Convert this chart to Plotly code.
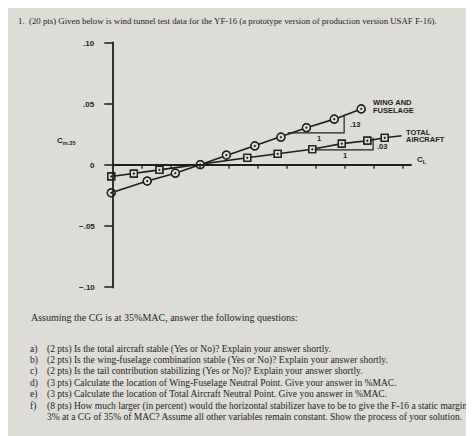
import plotly.graph_objects as go

# Data (x in C_L tick units, y = Cm,35)
wf_x = [-0.06, 1.18, 2.15, 3.01, 3.91, 4.89, 5.79, 6.67, 7.63, 8.56]
wf_y = [-0.0228, -0.0132, -0.0067, 0.0003, 0.0081, 0.0156, 0.0228, 0.0306, 0.0376, 0.046]
ta_x = [-0.06, 0.72, 1.6, 4.63, 5.68, 6.87, 7.89, 8.77, 9.37]
ta_y = [-0.0094, -0.007, -0.004, 0.0059, 0.0091, 0.0129, 0.0175, 0.0199, 0.0223]
ta_line_x = ta_x + [9.95]
ta_line_y = ta_y + [0.024]
ytick_vals = [0.10, 0.05, 0.0, -0.05, -0.10]
ytick_text = [".10", ".05", "0", "\u2212.05", "\u2212.10"]
xtick_vals = list(range(1, 11))

BG = "#dddcd7"
INK = "#1e1e1e"
W, H = 474, 436
x0px, y0px, pxx, pxy = 105, 157, 29.0, 1220.0
xr = [-x0px / pxx, (W - x0px) / pxx]
yr = [-(H - y0px) / pxy, y0px / pxy]

fig = go.Figure()
# axes
fig.add_shape(type="line", x0=0, x1=0, y0=-0.101, y1=0.101, line=dict(color=INK, width=1.8))
fig.add_shape(type="line", x0=0, x1=10.3, y0=0, y1=0, line=dict(color=INK, width=1.8))
for v in ytick_vals:
    fig.add_shape(type="line", x0=-0.3, x1=0, y0=v, y1=v, line=dict(color=INK, width=1.5))
for v in xtick_vals:
    fig.add_shape(type="line", x0=v, x1=v, y0=0, y1=-0.003, line=dict(color=INK, width=1.3))
# slope triangles
fig.add_shape(type="path", path="M 6.03,0.0263 L 7.97,0.0263 L 7.97,0.0403",
              line=dict(color=INK, width=1.2))
fig.add_shape(type="path", path="M 6.95,0.0124 L 8.97,0.0124 L 8.97,0.0223",
              line=dict(color=INK, width=1.2))

fig.add_trace(go.Scatter(x=ta_line_x, y=ta_line_y, mode="lines", line=dict(color=INK, width=1.6)))
fig.add_trace(go.Scatter(x=wf_x, y=wf_y, mode="lines", line=dict(color=INK, width=1.6)))
fig.add_trace(go.Scatter(x=ta_x, y=ta_y, mode="markers",
                         marker=dict(symbol="square", size=7, color=BG, line=dict(color=INK, width=1.2))))
fig.add_trace(go.Scatter(x=ta_x, y=ta_y, mode="markers",
                         marker=dict(symbol="square-open-dot", size=7, color=INK, line=dict(width=1.2))))
fig.add_trace(go.Scatter(x=wf_x, y=wf_y, mode="markers",
                         marker=dict(symbol="circle", size=8, color=BG, line=dict(color=INK, width=1.2))))
fig.add_trace(go.Scatter(x=wf_x, y=wf_y, mode="markers",
                         marker=dict(symbol="circle-open-dot", size=8, color=INK, line=dict(width=1.2))))

ann = []
def A(x, y, t, size=9, fam="Liberation Sans", xa="left", bold=True):
    ann.append(dict(x=x, y=y, xref="x", yref="y", text=(f"<b>{t}</b>" if bold else t),
                    showarrow=False, xanchor=xa, yanchor="middle",
                    font=dict(size=size, family=fam, color=INK)))

for v, t in zip(ytick_vals, ytick_text):
    A(-0.55, v, t, size=8, xa="right")
A(-1.2, 0.0197, "C<sub>m.35</sub>", size=8, xa="right")
A(8.9, 0.0515, "WING AND", size=7.5)
A(8.9, 0.0449, "FUSELAGE", size=7.5)
A(10.05, 0.0270, "TOTAL", size=7.5)
A(10.05, 0.0205, "AIRCRAFT", size=7.5)
A(8.1, 0.0336, ".13", size=7.5)
A(7.1, 0.0221, "1", size=7.5, xa="center")
A(9.05, 0.0148, ".03", size=7.5)
A(8.0, 0.0082, "1", size=7.5, xa="center")
A(10.4, 0.0041, "C<sub>L</sub>", size=8)

def T(px, py, t, size=9.5):
    ann.append(dict(x=px / W, y=1 - py / H, xref="paper", yref="paper", text=t,
                    showarrow=False, xanchor="left", yanchor="middle",
                    font=dict(size=size, family="Liberation Serif", color=INK)))

T(8, 13, "1.  (20 pts) Given below is wind tunnel test data for the YF-16 (a prototype version of production version USAF F-16).", 8.8)
T(21, 309, "Assuming the CG is at 35%MAC, answer the following questions:", 10)
lines = [
    ("a)", "(2 pts) Is the total aircraft stable (Yes or No)? Explain your answer shortly."),
    ("b)", "(2 pts) Is the wing-fuselage combination stable (Yes or No)? Explain your answer shortly."),
    ("c)", "(2 pts) Is the tail contribution stabilizing (Yes or No)? Explain your answer shortly."),
    ("d)", "(3 pts) Calculate the location of Wing-Fuselage Neutral Point. Give your answer in %MAC."),
    ("e)", "(3 pts) Calculate the location of Total Aircraft Neutral Point. Give you answer in %MAC."),
    ("f)", "(8 pts) How much larger (in percent) would the horizontal stabilizer have to be to give the F-16 a static margin of"),
]
for i, (k, t) in enumerate(lines):
    py = 341 + i * 11.4
    T(20, py, k)
    T(37, py, t)
T(37, 341 + 6 * 11.4, "3% at a CG of 35% of MAC? Assume all other variables remain constant. Show the process of your solution.")

fig.update_layout(
    width=W, height=H, margin=dict(l=0, r=0, t=0, b=0),
    paper_bgcolor=BG, plot_bgcolor=BG, showlegend=False,
    xaxis=dict(range=xr, visible=False, fixedrange=True),
    yaxis=dict(range=yr, visible=False, fixedrange=True),
    annotations=ann,
)
fig.write_html("out.html")
